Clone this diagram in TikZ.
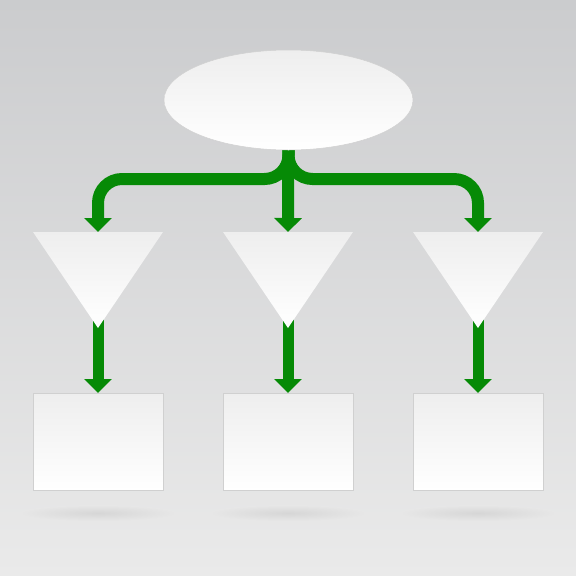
\documentclass[tikz,border=0pt]{standalone}
\usetikzlibrary{shapes.geometric,arrows.meta}
\pgfdeclarelayer{bg}
\pgfdeclarelayer{arr}
\pgfsetlayers{bg,arr,main}
\definecolor{bgtop}{RGB}{203,204,206}
\definecolor{bgbot}{RGB}{234,234,234}
\definecolor{flowgreen}{RGB}{6,138,6}
\definecolor{shapetop}{RGB}{238,238,238}
\definecolor{shapeedge}{RGB}{208,208,208}
\definecolor{shadowc}{RGB}{214,214,214}
\definecolor{shadowbg}{RGB}{231,231,231}
\begin{document}
\begin{tikzpicture}[x=1pt,y=-1pt,
  flatshape/.style={top color=shapetop, bottom color=white, inner sep=0pt, outer sep=0pt},
  topoval/.style={flatshape, draw=shapeedge, line width=0.5pt, ellipse, minimum width=249pt, minimum height=100pt},
  funnel/.style={flatshape, isosceles triangle, isosceles triangle stretches, shape border rotate=270, minimum width=130pt, minimum height=96pt},
  panel/.style={flatshape, draw=shapeedge, line width=0.6pt, rectangle, minimum width=130pt, minimum height=97pt},
  flow/.style={draw=flowgreen, line width=12pt, -{Triangle[width=27pt,length=14pt]}},
]
\begin{pgfonlayer}{bg}
  \fill[top color=bgtop, bottom color=bgbot] (0,0) rectangle (576,576);
\end{pgfonlayer}
\useasboundingbox (0,0) rectangle (576,576);

\node[topoval] (e) at (288.5,100) {};
\foreach \i/\x in {1/98,2/288,3/478} {
  \node[funnel, anchor=apex] (t\i) at (\x,328) {};
  \node[panel] (b\i) at (\x,441.5) {};
  \shade[inner color=shadowc, outer color=shadowbg] (\x,513) ellipse [x radius=78pt, y radius=8pt];
}

\begin{pgfonlayer}{arr}
  \draw[flow, rounded corners=24pt] (e.center) -- ++(0,79) -| (t1.north);
  \draw[flow, rounded corners=24pt] (e.center) -- ++(0,79) -| (t3.north);
  \draw[flow] (e.center) -- (t2.north);
  \foreach \i in {1,2,3} {
    \draw[flow, line width=11pt] (t\i.center) -- (b\i.north);
  }
\end{pgfonlayer}
\end{tikzpicture}
\end{document}
